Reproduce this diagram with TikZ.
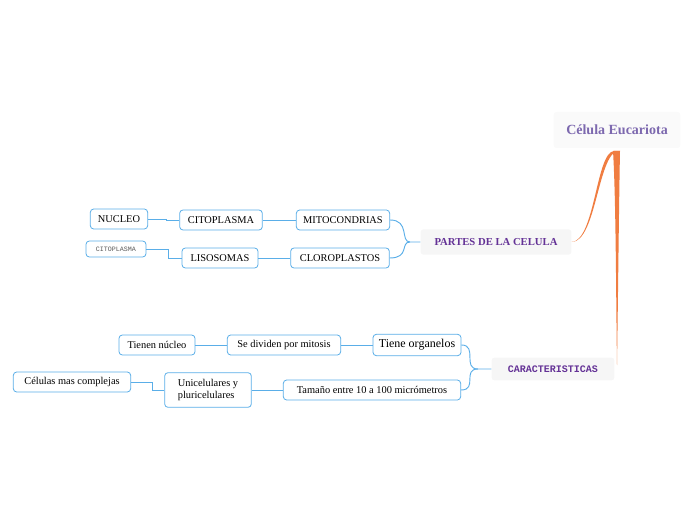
\documentclass[tikz,border=0pt]{standalone}
\usepackage{fontspec}
\setmainfont{Liberation Serif}
\setmonofont{Liberation Mono}
\definecolor{bluec}{RGB}{90,174,232}
\definecolor{purp}{RGB}{100,50,150}
\definecolor{rootc}{RGB}{125,105,175}
\definecolor{orc}{RGB}{240,125,65}
\begin{document}
\begin{tikzpicture}[x=0.75pt,y=-0.75pt,
 leaf/.style={draw=bluec, rounded corners=2.5pt, fill=white, line width=0.6pt, font=\fontsize{7.8}{8.8}\selectfont, inner sep=0pt, minimum height=15pt},
 topic/.style={fill=gray!7, rounded corners=2pt, inner sep=0pt, text=purp, font=\bfseries\fontsize{8}{9}\selectfont},
 bl/.style={draw=bluec, line width=0.7pt}]
\useasboundingbox (0,0) rectangle (696,520);
\node[topic, minimum width=95pt, minimum height=27pt, fill=gray!4, text=rootc, font=\bfseries\fontsize{10.5}{12}\selectfont] (root) at (617,130) {Célula Eucariota};
\node[topic, minimum width=113pt, minimum height=19pt] (partes) at (496,242) {PARTES DE LA CELULA};
\node[topic, minimum width=92pt, minimum height=17pt, font=\ttfamily\bfseries\fontsize{7.5}{9}\selectfont] (carac) at (553,369) {CARACTERISTICAS};
\node[leaf, minimum width=70pt] (mito) at (343,220) {MITOCONDRIAS};
\node[leaf, minimum width=74pt] (cloro) at (340,258) {CLOROPLASTOS};
\node[leaf, minimum width=62pt] (cito) at (221,220) {CITOPLASMA};
\node[leaf, minimum width=57pt] (liso) at (220,258) {LISOSOMAS};
\node[leaf, minimum width=43pt] (nuc) at (119,219) {NUCLEO};
\node[leaf, minimum width=45pt, minimum height=12pt, font=\ttfamily\fontsize{5}{6}\selectfont, text=gray!70!black] (cito2) at (116,249) {CITOPLASMA};
\node[leaf, minimum width=66pt, minimum height=16pt, font=\fontsize{9}{10}\selectfont] (org) at (417,345) {Tiene organelos};
\node[leaf, minimum width=133pt] (tam) at (372,390) {Tamaño entre 10 a 100 micrómetros};
\node[leaf, minimum width=85pt] (mit) at (284,345) {Se dividen por mitosis};
\node[leaf, minimum width=57pt] (nucl) at (157,345) {Tienen núcleo};
\node[leaf, minimum width=65pt, minimum height=26pt, align=left] (uni) at (208,390) {Unicelulares y\\pluricelulares};
\node[leaf, minimum width=88pt] (comp) at (72,382) {Células mas complejas};
% orange
\fill[orc] (620,151) .. controls (598,148) and (597,242) .. (partes.east) .. controls (595,241) and (596,152) .. (614,151) -- cycle;
\fill[orc] (620,151) .. controls (619,200) and (618,300) .. (617,365) .. controls (616,300) and (616,200) .. (613,151) -- cycle;
% blue
\draw[bl] (partes.west) -- (410,242) .. controls (400,242) and (410,220) .. (mito.east);
\draw[bl] (410,242) .. controls (400,242) and (410,258) .. (cloro.east);
\draw[bl] (carac.west) -- (478,369) .. controls (462,369) and (478,345) .. (org.east);
\draw[bl] (478,369) .. controls (462,369) and (478,390) .. (tam.east);
\draw[bl] (mito) -- (cito); \draw[bl] (cloro) -- (liso);
\draw[bl] (cito.west) -- (166,220) -- (166,219) -- (nuc.east);
\draw[bl] (liso.west) -- (168,258) -- (168,249) -- (cito2.east);
\draw[bl] (org) -- (mit);
\draw[bl] (mit) -- (nucl);
\draw[bl] (tam) -- (uni);
\draw[bl] (uni.west) -- (152,390) -- (152,382) -- (comp.east);
\end{tikzpicture}
\end{document}
